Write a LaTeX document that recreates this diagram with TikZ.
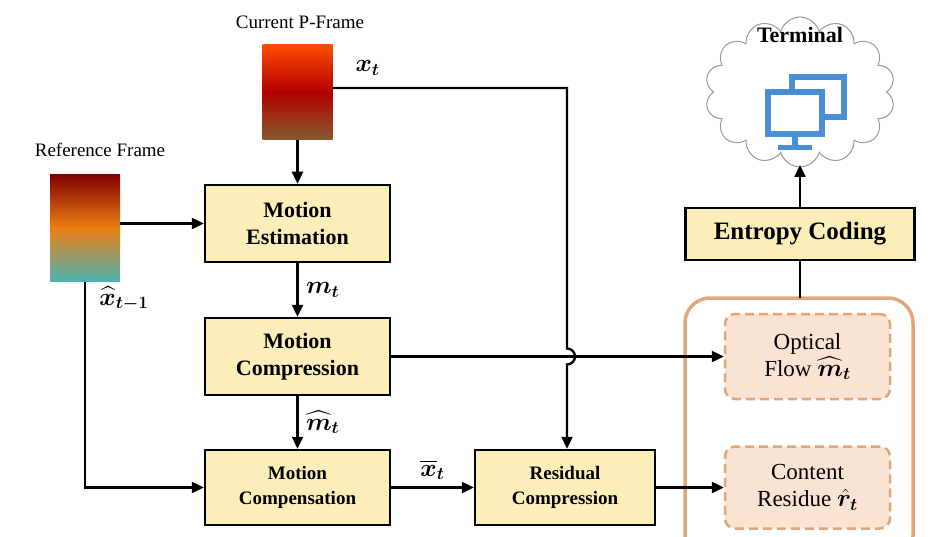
\documentclass[tikz,border=0pt]{standalone}
\usepackage{fontspec}
\usepackage{amsmath,bm}
\setmainfont{Liberation Serif}
\usetikzlibrary{shapes.symbols,arrows.meta}
\definecolor{boxy}{HTML}{FBEEB8}
\definecolor{org}{HTML}{E0A77A}
\definecolor{orgf}{HTML}{FBE3D3}
\definecolor{mon}{HTML}{4A8FD4}
\tikzset{
  blk/.style={draw,line width=2.5pt,fill=boxy,font=\fontsize{22}{25}\selectfont\bfseries,align=center,inner sep=0pt},
  sub/.style={draw=org,dash pattern=on 9pt off 5pt,line width=2.5pt,fill=orgf,rounded corners=10pt,font=\fontsize{23}{27}\selectfont,align=center,inner sep=0pt},
  arr/.style={-{Triangle[length=12pt,width=11pt]},line width=2.4pt},
  ln/.style={line width=2.4pt},
  lab/.style={font=\fontsize{19}{22}\selectfont},
  mth/.style={font=\fontsize{26}{28}\selectfont},
  img/.style={inner sep=0pt,draw=none}
}
\begin{document}
\begin{tikzpicture}[x=1pt,y=-1pt]
\useasboundingbox (0,0) rectangle (939,537);
% outer container
\draw[org,line width=3.5pt,rounded corners=25pt] (685,298) -- (913,298) -- (913,560) -- (685,560) -- cycle;
% images
\node[img,minimum width=70pt,minimum height=95pt,top color=orange!60!red,bottom color=brown!70!black,middle color=red!70!black] (pf) at (297.5,92) {};
\node[img,minimum width=70pt,minimum height=107pt,top color=red!50!black,bottom color=cyan!40!gray,middle color=orange!70!brown] (rf) at (85,228) {};
\node[lab] (tpf) at (300,22) {Current P-Frame};
\node[lab] (trf) at (100,150) {Reference Frame};
\node[mth,anchor=west] (xt) at (352,68) {$\bm{x_t}$};
\node[mth] (xh) at (124,299) {$\bm{\widehat{x}_{t-1}}$};
% blocks
\node[blk,minimum width=185pt,minimum height=77pt] (me) at (297.5,223.5) {Motion\\[2pt]Estimation};
\node[blk,minimum width=185pt,minimum height=77pt] (mc) at (297.5,356.5) {Motion\\[2pt]Compression};
\node[blk,minimum width=185pt,minimum height=75pt,font=\fontsize{19}{22}\selectfont\bfseries] (mp) at (297.5,487.5) {Motion\\[3pt]Compensation};
\node[blk,minimum width=180pt,minimum height=75pt,font=\fontsize{19}{22}\selectfont\bfseries] (rc) at (565,487.5) {Residual\\[3pt]Compression};
\node[blk,minimum width=229pt,minimum height=52pt,font=\fontsize{25}{28}\selectfont\bfseries] (ec) at (800,234) {Entropy Coding};
\node[sub,minimum width=165pt,minimum height=85pt] (of) at (807.5,356.5) {Optical\\Flow $\bm{\widehat{m}_t}$};
\node[sub,minimum width=165pt,minimum height=82pt] (cr) at (807.5,487.5) {Content\\Residue $\bm{\hat{r}_t}$};
% cloud
\node[cloud,draw=gray!80,line width=1pt,cloud puffs=14,aspect=1.25,minimum width=190pt,minimum height=150pt] (cl) at (800,92) {};
\node[font=\fontsize{22}{25}\selectfont\bfseries] (tm) at (800,35) {Terminal};
\draw[mon,line width=6pt] (792,77) rectangle (844,117);
\fill[white] (768,90) rectangle (822,136);
\draw[mon,line width=6pt] (768,92) rectangle (822,134);
\draw[mon,line width=6pt] (795,134) -- (795,146);
\draw[mon,line width=5pt] (778,148) -- (812,148);
% connectors
\draw[arr] (pf.south) -- (me.north);
\draw[arr] (rf.east |- me.west) -- (me.west);
\draw[arr] (me.south) -- node[mth,right=4pt] {$\bm{m_t}$} (mc.north);
\draw[arr] (mc.south) -- node[mth,right=4pt] {$\bm{\widehat{m}_t}$} (mp.north);
\draw[arr] (rf.south) |- (mp.west);
\draw[arr] (mp.east) -- node[mth,above=3pt] {$\bm{\overline{x}_t}$} (rc.west);
\draw[arr] (mc.east) -- (of.west);
\draw[arr] (rc.east) -- (cr.west);
\draw[arr] (333,88) -- (567,88) -- (567,348.5) arc[start angle=-90,end angle=90,radius=8] -- (rc.north -| 567,0);
\draw[ln] (800,298) -- (ec.south);
\draw[arr] (ec.north) -- (800,165);
\end{tikzpicture}
\end{document}
